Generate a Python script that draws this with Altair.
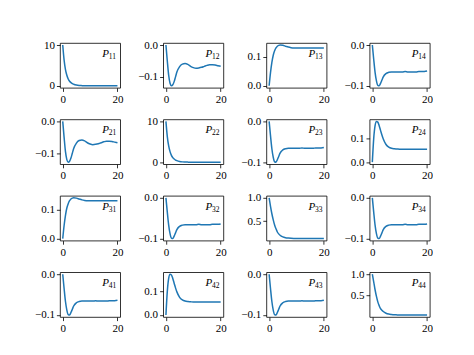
import altair as alt
import pandas as pd

# time grid
t = [0, 0.5, 1, 1.5, 2, 2.5, 3, 3.5, 4, 5, 6, 7, 8, 9, 10, 11, 12, 13, 14, 15, 16, 17, 18, 19, 20]

# unique curve shapes
v_diag10 = [10, 6.3, 4.0, 2.6, 1.7, 1.15, 0.8, 0.55, 0.4, 0.2, 0.1, 0.06, 0.04, 0.03, 0.03,
            0.03, 0.03, 0.03, 0.03, 0.03, 0.03, 0.03, 0.03, 0.03, 0.03]
v_osc = [0, -0.05, -0.095, -0.12, -0.128, -0.125, -0.115, -0.1, -0.085, -0.068, -0.06, -0.058,
         -0.061, -0.067, -0.071, -0.073, -0.072, -0.070, -0.067, -0.064, -0.062, -0.062, -0.063,
         -0.065, -0.067]
v_rise = [0, 0.045, 0.08, 0.105, 0.12, 0.13, 0.136, 0.139, 0.14, 0.139, 0.136, 0.133, 0.131,
          0.130, 0.130, 0.130, 0.130, 0.130, 0.130, 0.130, 0.130, 0.130, 0.130, 0.130, 0.130]
v_dip = [0, -0.035, -0.067, -0.088, -0.099, -0.1, -0.094, -0.086, -0.078, -0.07, -0.067, -0.066,
         -0.066, -0.066, -0.066, -0.066, -0.065, -0.066, -0.066, -0.066, -0.066, -0.065, -0.065,
         -0.065, -0.064]
v_peak = [0, 0.1, 0.155, 0.173, 0.17, 0.155, 0.135, 0.115, 0.098, 0.075, 0.064, 0.059, 0.057,
          0.056, 0.055, 0.055, 0.055, 0.055, 0.055, 0.055, 0.055, 0.055, 0.055, 0.055, 0.055]
v_p33 = [1.0, 0.82, 0.66, 0.53, 0.42, 0.34, 0.27, 0.23, 0.2, 0.165, 0.148, 0.14, 0.135, 0.132,
         0.13, 0.13, 0.13, 0.13, 0.13, 0.13, 0.13, 0.13, 0.13, 0.13, 0.13]
v_p44 = [1.0, 0.82, 0.63, 0.47, 0.34, 0.25, 0.18, 0.14, 0.11, 0.07, 0.05, 0.04, 0.033, 0.03,
         0.028, 0.028, 0.028, 0.028, 0.028, 0.028, 0.028, 0.028, 0.028, 0.028, 0.028]

subscripts = ["11", "12", "13", "14", "21", "22", "23", "24",
              "31", "32", "33", "34", "41", "42", "43", "44"]
curves = [v_diag10, v_osc, v_rise, v_dip,
          v_osc, v_diag10, v_dip, v_peak,
          v_rise, v_dip, v_p33, v_dip,
          v_dip, v_peak, v_dip, v_p44]
ytick_sets = {
    "big": [0, 10],
    "neg": [-0.1, 0.0],
    "pos": [0.0, 0.1],
    "one": [0.5, 1.0],
}
ytick_kind = ["big", "neg", "pos", "neg",
              "neg", "big", "neg", "pos",
              "pos", "neg", "one", "neg",
              "neg", "pos", "neg", "one"]
xticks = [0, 20]

W = 60.2
H = 44.8
FONT = "Liberation Serif"


def panel(i):
    vals = curves[i]
    kind = ytick_kind[i]
    fmt = "d" if kind == "big" else ".1f"
    df = pd.DataFrame({"t": t, "v": vals})
    lo, hi = min(vals), max(vals)
    pad = 0.05 * (hi - lo)
    line = alt.Chart(df).mark_line(
        color="#1f77b4", strokeWidth=1.5, interpolate="monotone"
    ).encode(
        x=alt.X("t:Q", scale=alt.Scale(domain=[-1, 21], nice=False, zero=False),
                axis=alt.Axis(values=xticks, format="d", title=None)),
        y=alt.Y("v:Q", scale=alt.Scale(domain=[lo - pad, hi + pad], nice=False, zero=False),
                axis=alt.Axis(values=ytick_sets[kind], format=fmt, title=None)),
    )
    lab = alt.Chart(pd.DataFrame({"p": ["P"], "s": [subscripts[i]]}))
    ptxt = lab.mark_text(align="left", baseline="alphabetic", font=FONT,
                         fontStyle="italic", fontSize=11, color="black").encode(
        x=alt.value(W - 18), y=alt.value(14), text="p:N")
    stxt = lab.mark_text(align="left", baseline="alphabetic", font=FONT,
                         fontSize=7.5, color="black").encode(
        x=alt.value(W - 11.5), y=alt.value(16), text="s:N")
    layers = [line, ptxt, stxt]
    if i == 0:
        anchor = alt.Chart(pd.DataFrame({"a": [0]})).mark_rule(opacity=0, strokeWidth=0).encode(
            x=alt.value(-59.25), x2=alt.value(-59.25), y=alt.value(-42.6), y2=alt.value(-42.6))
        layers.append(anchor)
    return alt.layer(*layers).properties(width=W, height=H)


chart = alt.concat(
    *[panel(i) for i in range(16)],
    columns=4,
    spacing={"row": 31.4, "column": 42.2},
    bounds="flush",
).properties(
    padding=0
).configure_view(
    stroke="black", strokeWidth=0.8
).configure_axis(
    domain=False, grid=False, tickColor="black", tickSize=3.6, tickWidth=0.8,
    labelFont=FONT, labelFontSize=11, labelColor="black", labelPadding=2,
)

chart.save("out.html", embed_options={"renderer": "svg", "actions": False})
